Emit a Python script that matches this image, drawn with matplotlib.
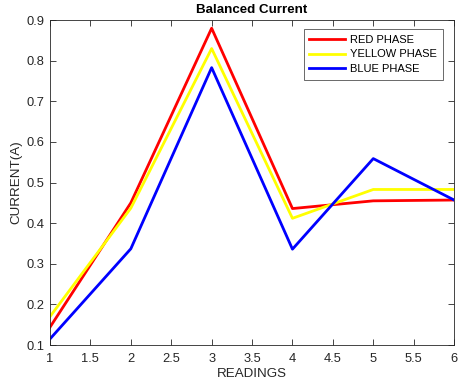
import matplotlib
matplotlib.use("Agg")
import matplotlib.pyplot as plt

plt.rcParams['font.family'] = ['Liberation Sans', 'DejaVu Sans']

readings = [1, 2, 3, 4, 5, 6]
red_phase = [0.144, 0.450, 0.880, 0.436, 0.455, 0.457]
yellow_phase = [0.170, 0.437, 0.830, 0.412, 0.483, 0.483]
blue_phase = [0.115, 0.337, 0.783, 0.336, 0.559, 0.457]
labels = ["RED PHASE", "YELLOW PHASE", "BLUE PHASE"]
colors = ["#ff0000", "#ffff00", "#0000ff"]

fig = plt.figure(figsize=(4.74, 3.87), dpi=100)
ax = fig.add_axes([0.1055, 0.1085, 0.8525, 0.8395])
for ys, lab, c in zip([red_phase, yellow_phase, blue_phase], labels, colors):
    ax.plot(readings, ys, color=c, lw=2.0, label=lab)

ax.set_xlim(1, 6)
ax.set_ylim(0.1, 0.9)
ax.set_xticks([1, 1.5, 2, 2.5, 3, 3.5, 4, 4.5, 5, 5.5, 6])
ax.set_xticklabels(["1", "1.5", "2", "2.5", "3", "3.5", "4", "4.5", "5", "5.5", "6"])
ax.set_yticks([0.1, 0.2, 0.3, 0.4, 0.5, 0.6, 0.7, 0.8, 0.9])
ax.tick_params(direction='in', length=4, width=0.6, colors='#262626', labelsize=9.3,
               top=True, right=True)
ax.tick_params(axis='x', pad=6)
ax.tick_params(axis='y', pad=4)
for s in ax.spines.values():
    s.set_color('#262626')
    s.set_linewidth(0.6)
ax.set_xlabel("READINGS", fontsize=9.6, color='#262626', labelpad=2)
ax.set_ylabel("CURRENT(A)", fontsize=9.6, color='#262626', labelpad=3)
ax.set_title("Balanced Current", fontsize=9.6, fontweight='bold', pad=5)
leg = ax.legend(loc='upper right', bbox_to_anchor=(0.972, 0.972), fontsize=8,
                frameon=True, fancybox=False, edgecolor='#262626', borderpad=0.5,
                labelspacing=0.42, handlelength=3.25, handletextpad=0.45, borderaxespad=0)
leg.get_frame().set_linewidth(0.6)

fig.savefig("out.png", dpi=100)
